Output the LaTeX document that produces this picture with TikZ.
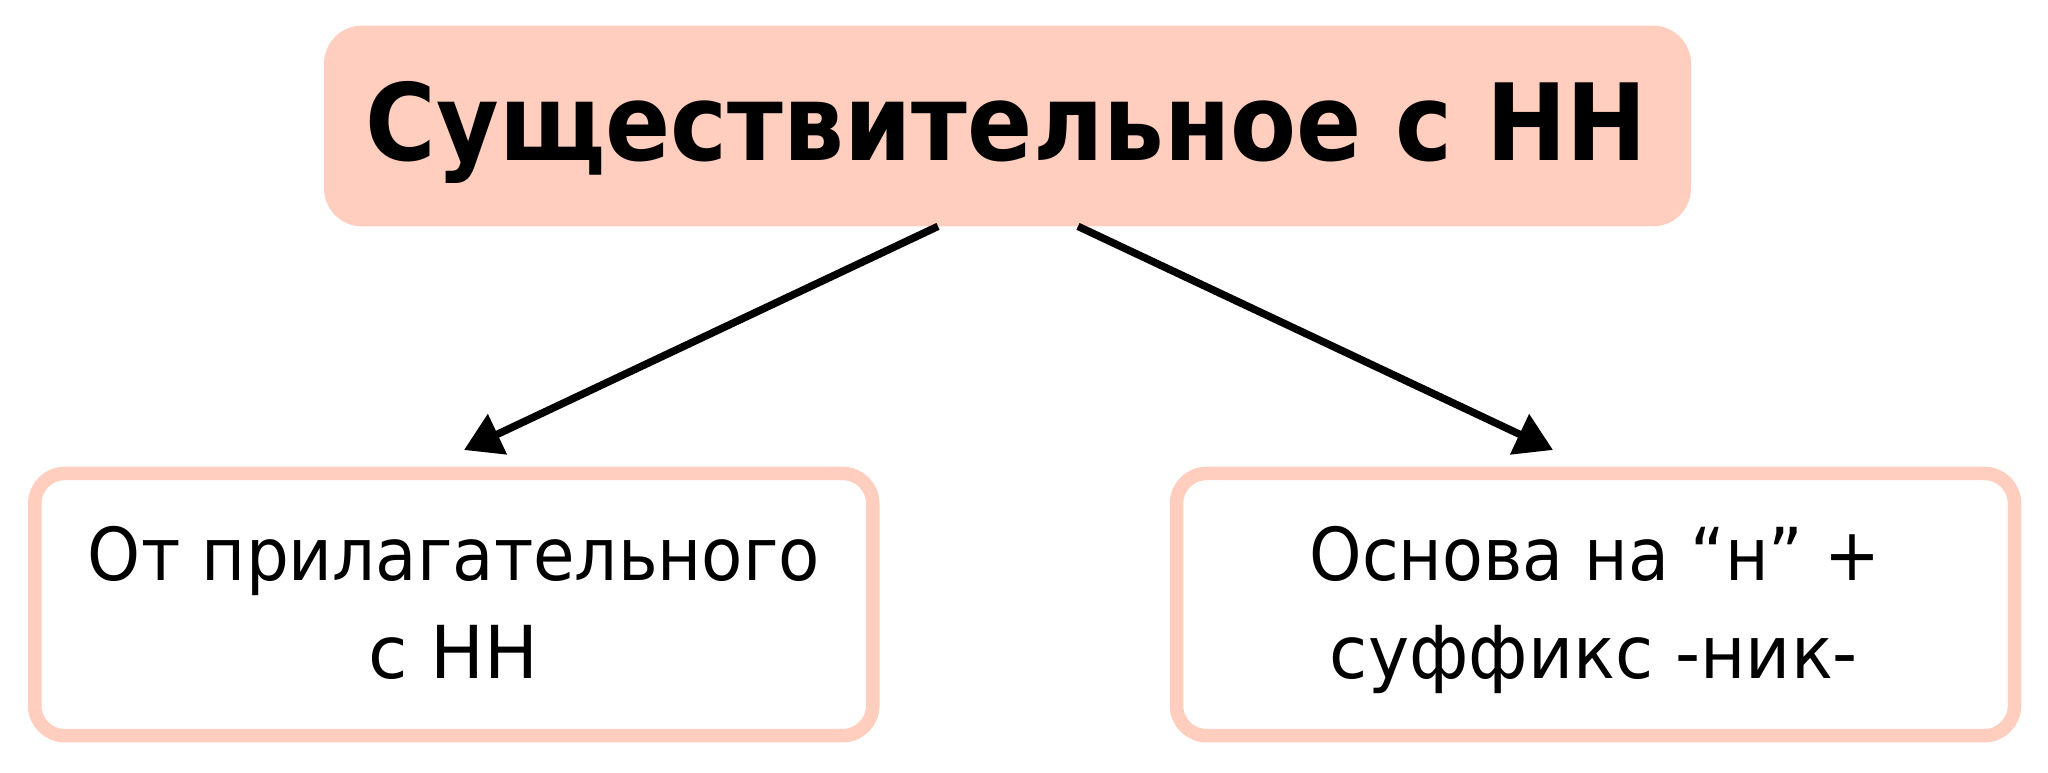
\documentclass[tikz,border=0pt]{standalone}
\usepackage{fontspec}
\usepackage{graphicx}
\setmainfont{DejaVu Sans}
\usetikzlibrary{arrows.meta,calc}
\definecolor{peach}{RGB}{255,206,190}
\tikzset{
  titlebox/.style={rectangle, rounded corners=38pt, fill=peach, minimum width=1367pt, minimum height=200.7pt, inner sep=0pt, outer sep=0pt},
  leafbox/.style={rectangle, rounded corners=30pt, draw=peach, line width=13.5pt, minimum width=838pt, minimum height=262.2pt, inner sep=0pt, fill=white},
  txt/.style={anchor=base, inner sep=0pt, outer sep=0pt},
  arr/.style={line width=7.5pt, -{Triangle[length=37pt,width=43pt]}},
}
\newcommand\bodyfnt{\fontsize{73}{80}\selectfont}
\newcommand\titlefnt{\fontsize{106.6}{110}\selectfont\bfseries}
\newcommand\fitto[2]{\resizebox{#1}{\height}{#2}}
\begin{document}
\begin{tikzpicture}[x=1pt,y=-1pt]
\path[use as bounding box, fill=white] (0,0) rectangle (2048,772);
\node[titlebox] (top) at (1007.5,126) {};
\node[leafbox] (left) at (453.75,604.55) {};
\node[leafbox] (right) at (1595.5,604.55) {};
\node[txt] (t0) at (1006.5,160) {\titlefnt\fitto{1281pt}{Существительное с НН}};
\node[txt] (l1) at (454,580) {\bodyfnt\fitto{732pt}{От прилагательного}};
\node[txt] (l2) at (453,678) {\bodyfnt\fitto{170pt}{с НН}};
\node[txt] (r1) at (1595,580) {\bodyfnt\fitto{571pt}{Основа на “н” +}};
\node[txt] (r2) at (1594,678) {\bodyfnt\fitto{528pt}{суффикс -ник-}};
\coordinate (s1) at ($(top.south)+(-69.5,0)$);
\coordinate (s2) at ($(top.south)+(70.5,0)$);
\coordinate (e1) at ($(left.north)+(10.25,-16.7)$);
\coordinate (e2) at ($(right.north)+(-42.5,-16.7)$);
\draw[arr] (s1) -- (e1);
\draw[arr] (s2) -- (e2);
\end{tikzpicture}
\end{document}
